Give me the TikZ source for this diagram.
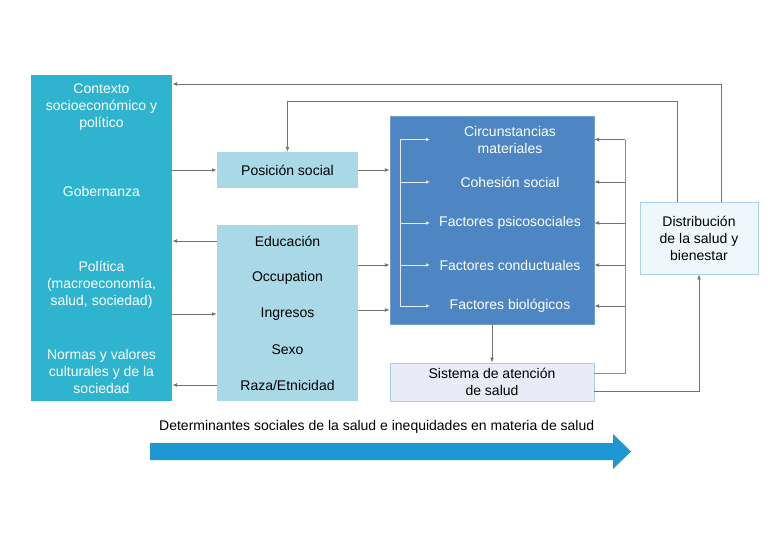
\documentclass[tikz,border=0pt]{standalone}
\usepackage{fontspec}
\setmainfont{Liberation Sans}
\usepackage{tikz}
\usetikzlibrary{arrows.meta, positioning, calc}
\usepackage{xcolor}
\definecolor{turquesa}{HTML}{2EB4CE}
\definecolor{celeste}{HTML}{A9D9E6}
\definecolor{azulcaja}{HTML}{4E86C4}
\definecolor{lavanda}{HTML}{E9ECF8}
\definecolor{bordeclaro}{HTML}{A6D4E6}
\definecolor{hielo}{HTML}{EEF8FA}
\definecolor{azulflecha}{HTML}{1D98D5}

\begin{document}
\begin{tikzpicture}[x=1pt, y=-1pt,
        box/.style={rectangle, inner sep=0pt, align=center},
        txt/.style={align=center, inner sep=1pt, font=\fontsize{14}{17}\selectfont},
        wtxt/.style={txt, text=white},
        line/.style={draw=black!55, line width=0.9pt, -{Latex[length=5pt, width=4pt]}},
        gline/.style={draw=black!45, line width=0.9pt},
        wline/.style={draw=white!85!azulcaja, line width=0.8pt, -{Latex[length=4pt, width=3.5pt]}}
    ]
        \useasboundingbox (0,0) rectangle (768,543);

        % Cajas principales
        \node [box, fill=turquesa, minimum width=141pt, minimum height=326pt] (ctx) at (101.5, 238) {};
        \node [box, fill=celeste, minimum width=141pt, minimum height=36pt] (pos) at (287.5, 170) {};
        \node [box, fill=celeste, minimum width=141pt, minimum height=176pt] (mid) at (287.5, 313) {};
        \node [box, fill=azulcaja, draw=azulcaja!80!white, minimum width=204pt, minimum height=208pt] (fact) at (492, 220) {};
        \node [box, fill=lavanda, draw=bordeclaro, thick, minimum width=204pt, minimum height=38pt] (sis) at (492, 382) {};
        \node [box, fill=hielo, draw=bordeclaro, thick, minimum width=118pt, minimum height=72pt] (dist) at (699, 238) {};

        % Textos de la caja izquierda
        \node [wtxt] (ctxA) at (101.5, 107) {Contexto\\socioeconómico y\\político};
        \node [wtxt] (ctxB) at (101.5, 191) {Gobernanza};
        \node [wtxt] (ctxC) at (101.5, 285) {Política\\(macroeconomía,\\salud, sociedad)};
        \node [wtxt] (ctxD) at (101.5, 371) {Normas y valores\\culturales y de la\\sociedad};

        % Posición social y estratificadores
        \node [txt] at (pos) {Posición social};
        \node [txt] (educ) at (287.5, 241) {Educación};
        \node [txt] (occ) at (287.5, 278) {Occupation};
        \node [txt] (ingr) at (287.5, 314) {Ingresos};
        \node [txt] (sexo) at (287.5, 350) {Sexo};
        \node [txt] (raza) at (287.5, 385) {Raza/Etnicidad};

        % Factores intermedios
        \node [wtxt] (circ) at (510, 139.5) {Circunstancias\\materiales};
        \node [wtxt] (cohe) at (510, 182) {Cohesión social};
        \node [wtxt] (psic) at (510, 223) {Factores psicosociales};
        \node [wtxt] (cond) at (510, 265) {Factores conductuales};
        \node [wtxt] (bio) at (510, 306) {Factores biológicos};

        \node [txt] at (sis) {Sistema de atención\\de salud};
        \node [txt] at (dist) {Distribución\\de la salud y\\bienestar};

        % Puntos de apoyo para las ramas
        \coordinate (inL) at (400, 0);
        \coordinate (inR) at (430, 0);
        \coordinate (rbr) at (625, 0);
        \coordinate (topA) at (721, 84);
        \coordinate (topB) at (677, 101);

        % Retroalimentación superior
        \draw [line] ([xshift=22pt]dist.north) -- (topA) -- (ctx.east |- topA);
        \draw [line] ([xshift=-22pt]dist.north) -- (topB) -| (pos.north);

        % Conexiones de la izquierda
        \draw [line] (ctx.east |- pos) -- (pos.west);
        \draw [line] (pos.east) -- (fact.west |- pos);
        \draw [line] (mid.west |- educ) -- (ctx.east |- educ);
        \draw [line] (ctx.east |- ingr) -- (mid.west |- ingr);
        \draw [line] (mid.west |- raza) -- (ctx.east |- raza);
        \draw [line] (mid.east |- cond) -- (fact.west |- cond);
        \draw [line] ([yshift=-4pt]mid.east |- bio) -- ([yshift=-4pt]fact.west |- bio);

        % Ramas internas
        \draw [draw=white!85!azulcaja, line width=0.8pt] (inL |- circ) -- (inL |- bio);
        \draw [wline] (inL |- circ) -- (inR |- circ);
        \draw [wline] (inL |- cohe) -- (inR |- cohe);
        \draw [wline] (inL |- psic) -- (inR |- psic);
        \draw [wline] (inL |- cond) -- (inR |- cond);
        \draw [wline] (inL |- bio) -- (inR |- bio);

        % Sistema de atención
        \draw [line] (fact.south) -- (sis.north);
        \draw [gline] ([yshift=9pt]sis.east) -| (rbr |- circ);
        \draw [line] (rbr |- circ) -- (fact.east |- circ);
        \draw [line] (rbr |- cohe) -- (fact.east |- cohe);
        \draw [line] (rbr |- psic) -- (fact.east |- psic);
        \draw [line] (rbr |- cond) -- (fact.east |- cond);
        \draw [line] (rbr |- bio) -- (fact.east |- bio);
        \draw [line] ([yshift=-9pt]sis.east) -| (dist.south);

        % Flecha inferior
        \fill [azulflecha] (150,443) -- (613,443) -- (613,434) -- (631,451.5) -- (613,469) -- (613,460) -- (150,460) -- cycle;
        \node [txt, anchor=west] (lema) at (158, 427) {Determinantes sociales de la salud e inequidades en materia de salud};
\end{tikzpicture}
\end{document}
